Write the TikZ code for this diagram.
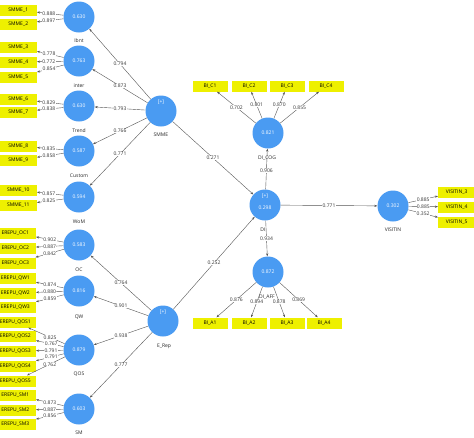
\documentclass[tikz,border=0pt]{standalone}
\usepackage{fontspec}
\newfontfamily\plsfont{Open Sans}
\usetikzlibrary{arrows.meta}
\definecolor{plsblue}{RGB}{74,155,242}
\definecolor{plsyellow}{RGB}{238,240,0}
\definecolor{linegray}{RGB}{85,85,85}
\newcommand{\plsfs}{\plsfont\fontsize{5}{6}\selectfont}
\tikzset{
 lv/.style={circle, fill=plsblue, minimum size=31pt, inner sep=0pt, text=white, font=\plsfs},
 lvcap/.style={font=\plsfs, text=black!85, inner sep=0.5pt},
 plus/.style={font=\plsfs, text=white, inner sep=0pt},
 ind/.style={rectangle, fill=plsyellow, minimum height=11pt, inner sep=0pt, font=\plsfs, text=black},
 smbox/.style={ind, minimum width=37pt, anchor=east},
 erbox/.style={ind, minimum width=41pt, anchor=east},
 bibox/.style={ind, minimum width=35pt},
 lnk/.style={draw=linegray, line width=0.4pt, -{Stealth[length=3pt,width=2.2pt]}},
 coef/.style={fill=white, inner sep=0.4pt, font=\plsfs, text=black!80},
}
\begin{document}
\begin{tikzpicture}[x=1pt,y=-1pt]
\useasboundingbox[fill=white] (0,0) rectangle (474,437);
% first-order constructs
\node[lv] (Ibnt) at (79,17) {0.630};   \node[lvcap] (cIbnt) at (79,41) {Ibnt};
\node[lv] (inter) at (79,61) {0.763};  \node[lvcap] (cinter) at (79,86) {inter};
\node[lv] (Trend) at (79,106) {0.630}; \node[lvcap] (cTrend) at (79,131) {Trend};
\node[lv] (Custom) at (79,151) {0.587};\node[lvcap] (cCustom) at (79,176) {Custom};
\node[lv] (WoM) at (79,197) {0.594};   \node[lvcap] (cWoM) at (79,222) {WoM};
\node[lv] (OC) at (79,245) {0.583};    \node[lvcap] (cOC) at (79,270) {OC};
\node[lv] (QW) at (79,291) {0.816};    \node[lvcap] (cQW) at (79,317) {QW};
\node[lv] (QOS) at (79,350) {0.879};   \node[lvcap] (cQOS) at (79,374) {QOS};
\node[lv] (SM) at (79,409) {0.603};    \node[lvcap] (cSM) at (79,433) {SM};
% second-order constructs
\node[lv] (SMME) at (161,111) {};  \node[plus] (pSMME) at (161,102) {[+]}; \node[lvcap] (cSMME) at (161,135) {SMME};
\node[lv] (ERep) at (163,321) {};  \node[plus] (pERep) at (163,312) {[+]}; \node[lvcap] (cERep) at (164,346) {E\_Rep};
\node[lv] (DI) at (265,205) {};    \node[plus] (pDI) at (265,196) {[+]}; \node[plus] (vDI) at (265,208) {0.298};
\node[lvcap] (cDI) at (263,230) {DI};
\node[lv] (DICOG) at (268,133) {0.821}; \node[lvcap] (cDICOG) at (267,158) {DI\_COG};
\node[lv] (DIAFF) at (268,272) {0.872}; \node[lvcap] (cDIAFF) at (267,297) {DI\_AFF};
\node[lv] (VIS) at (393,206) {0.302};   \node[lvcap] (cVIS) at (393,230) {VISITIN};
% indicators left
\node[smbox] (S1) at (37,10) {SMME\_1};
\node[smbox] (S2) at (37,24) {SMME\_2};
\node[smbox] (S3) at (37,47) {SMME\_3};
\node[smbox] (S4) at (37,62) {SMME\_4};
\node[smbox] (S5) at (37,77) {SMME\_5};
\node[smbox] (S6) at (37,99) {SMME\_6};
\node[smbox] (S7) at (37,112) {SMME\_7};
\node[smbox] (S8) at (37,146) {SMME\_8};
\node[smbox] (S9) at (37,160) {SMME\_9};
\node[smbox] (S10) at (37,190) {SMME\_10};
\node[smbox] (S11) at (37,205) {SMME\_11};
\node[erbox] (OC1) at (36,233) {EREPU\_OC1};
\node[erbox] (OC2) at (36,248) {EREPU\_OC2};
\node[erbox] (OC3) at (36,263) {EREPU\_OC3};
\node[erbox] (QW1) at (36,278) {EREPU\_QW1};
\node[erbox] (QW2) at (36,293) {EREPU\_QW2};
\node[erbox] (QW3) at (36,307) {EREPU\_QW3};
\node[erbox] (QOS1) at (36,322) {EREPU\_QOS1};
\node[erbox] (QOS2) at (36,336) {EREPU\_QOS2};
\node[erbox] (QOS3) at (36,351) {EREPU\_QOS3};
\node[erbox] (QOS4) at (36,366) {EREPU\_QOS4};
\node[erbox] (QOS5) at (36,381) {EREPU\_QOS5};
\node[erbox] (SM1) at (36,395) {EREPU\_SM1};
\node[erbox] (SM2) at (36,410) {EREPU\_SM2};
\node[erbox] (SM3) at (36,424) {EREPU\_SM3};
% indicators top / bottom / right
\node[bibox] (C1) at (210,86) {BI\_C1};
\node[bibox] (C2) at (249,86) {BI\_C2};
\node[bibox] (C3) at (287,86) {BI\_C3};
\node[bibox] (C4) at (326,86) {BI\_C4};
\node[bibox] (A1) at (210,323) {BI\_A1};
\node[bibox] (A2) at (249,323) {BI\_A2};
\node[bibox] (A3) at (287,323) {BI\_A3};
\node[bibox] (A4) at (324,323) {BI\_A4};
\node[ind, minimum width=37pt, anchor=west] (V3) at (438,192) {VISITIN\_3};
\node[ind, minimum width=37pt, anchor=west] (V4) at (438,207) {VISITIN\_4};
\node[ind, minimum width=37pt, anchor=west] (V5) at (438,222) {VISITIN\_5};
% loadings
\draw[lnk] (Ibnt) -- node[coef,pos=0.55]{0.888} (S1);
\draw[lnk] (Ibnt) -- node[coef,pos=0.55]{0.897} (S2);
\draw[lnk] (inter) -- node[coef,pos=0.55]{0.778} (S3);
\draw[lnk] (inter) -- node[coef,pos=0.55]{0.772} (S4);
\draw[lnk] (inter) -- node[coef,pos=0.55]{0.854} (S5);
\draw[lnk] (Trend) -- node[coef,pos=0.55]{0.829} (S6);
\draw[lnk] (Trend) -- node[coef,pos=0.55]{0.838} (S7);
\draw[lnk] (Custom) -- node[coef,pos=0.55]{0.835} (S8);
\draw[lnk] (Custom) -- node[coef,pos=0.55]{0.858} (S9);
\draw[lnk] (WoM) -- node[coef,pos=0.55]{0.857} (S10);
\draw[lnk] (WoM) -- node[coef,pos=0.55]{0.825} (S11);
\draw[lnk] (OC) -- node[coef,pos=0.5]{0.902} (OC1);
\draw[lnk] (OC) -- node[coef,pos=0.5]{0.887} (OC2);
\draw[lnk] (OC) -- node[coef,pos=0.5]{0.842} (OC3);
\draw[lnk] (QW) -- node[coef,pos=0.5]{0.874} (QW1);
\draw[lnk] (QW) -- node[coef,pos=0.5]{0.880} (QW2);
\draw[lnk] (QW) -- node[coef,pos=0.5]{0.859} (QW3);
\draw[lnk] (QOS) -- node[coef,pos=0.4]{0.825} (QOS1);
\draw[lnk] (QOS) -- node[coef,pos=0.45]{0.767} (QOS2);
\draw[lnk] (QOS) -- node[coef,pos=0.45]{0.791} (QOS3);
\draw[lnk] (QOS) -- node[coef,pos=0.45]{0.791} (QOS4);
\draw[lnk] (QOS) -- node[coef,pos=0.4]{0.762} (QOS5);
\draw[lnk] (SM) -- node[coef,pos=0.5]{0.873} (SM1);
\draw[lnk] (SM) -- node[coef,pos=0.5]{0.887} (SM2);
\draw[lnk] (SM) -- node[coef,pos=0.5]{0.856} (SM3);
\draw[lnk] (DICOG) -- node[coef]{0.702} (C1);
\draw[lnk] (DICOG) -- node[coef]{0.801} (C2);
\draw[lnk] (DICOG) -- node[coef]{0.870} (C3);
\draw[lnk] (DICOG) -- node[coef]{0.855} (C4);
\draw[lnk] (DIAFF) -- node[coef]{0.876} (A1);
\draw[lnk] (DIAFF) -- node[coef]{0.894} (A2);
\draw[lnk] (DIAFF) -- node[coef]{0.878} (A3);
\draw[lnk] (DIAFF) -- node[coef]{0.869} (A4);
\draw[lnk] (VIS) -- node[coef]{0.885} (V3);
\draw[lnk] (VIS) -- node[coef]{0.885} (V4);
\draw[lnk] (VIS) -- node[coef]{0.352} (V5);
% structural paths
\draw[lnk] (SMME) -- node[coef]{0.794} (Ibnt);
\draw[lnk] (SMME) -- node[coef]{0.873} (inter);
\draw[lnk] (SMME) -- node[coef]{0.793} (Trend);
\draw[lnk] (SMME) -- node[coef]{0.766} (Custom);
\draw[lnk] (SMME) -- node[coef]{0.771} (WoM);
\draw[lnk] (ERep) -- node[coef]{0.764} (OC);
\draw[lnk] (ERep) -- node[coef]{0.901} (QW);
\draw[lnk] (ERep) -- node[coef]{0.938} (QOS);
\draw[lnk] (ERep) -- node[coef]{0.777} (SM);
\draw[lnk] (SMME) -- node[coef]{0.271} (DI);
\draw[lnk] (ERep) -- node[coef]{0.252} (DI);
\draw[lnk] (DI) -- node[coef,pos=0.45]{0.906} (DICOG);
\draw[lnk] (DI) -- node[coef,pos=0.5]{0.934} (DIAFF);
\draw[lnk] (DI) -- node[coef]{0.771} (VIS);
\end{tikzpicture}
\end{document}
